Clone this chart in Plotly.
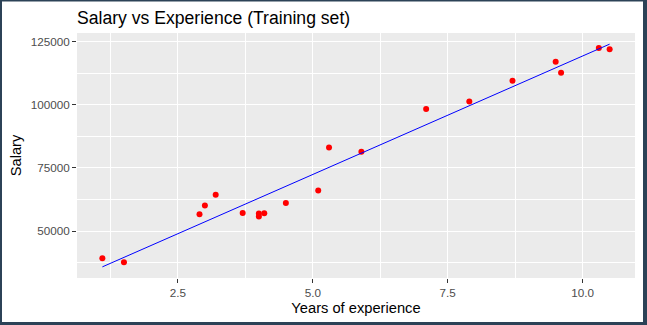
import numpy as np
import plotly.graph_objects as go

# Training set data (Years of experience, Salary)
years = [1.1, 1.5, 2.9, 3.0, 3.2, 3.7, 4.0, 4.0, 4.1, 4.5,
         5.1, 5.3, 5.9, 7.1, 7.9, 8.7, 9.5, 9.6, 10.3, 10.5]
salary = [39343, 37731, 56642, 60150, 64445, 57189, 55794, 56957, 57081, 61111,
          66029, 83088, 81363, 98273, 101302, 109431, 116969, 112635, 122391, 121872]

x_ticks = [2.5, 5.0, 7.5, 10.0]
x_ticklabels = ["2.5", "5.0", "7.5", "10.0"]
y_ticks = [50000, 75000, 100000, 125000]
y_ticklabels = ["50000", "75000", "100000", "125000"]

# Linear regression fit (as in the original lm model)
slope, intercept = np.polyfit(years, salary, 1)
pred = [slope * x + intercept for x in years]

W, H = 647, 325
ML, MR, MT, MB = 77, 12, 33, 47

xmin, xmax = min(years), max(years)
xpad = (xmax - xmin) * 0.05
ally = salary + pred
ymin, ymax = min(ally), max(ally)
ypad = (ymax - ymin) * 0.05

font_family = "Arial, Liberation Sans, sans-serif"

fig = go.Figure()
fig.add_trace(go.Scatter(x=years, y=salary, mode="markers",
                         marker=dict(color="#FF0000", size=6, line=dict(width=0)),
                         showlegend=False, hoverinfo="skip"))
fig.add_trace(go.Scatter(x=years, y=pred, mode="lines",
                         line=dict(color="#0000FF", width=1),
                         showlegend=False, hoverinfo="skip"))

axis_common = dict(
    showgrid=True, gridcolor="white", gridwidth=1.1,
    zeroline=False, showline=False,
    ticks="outside", ticklen=4, tickwidth=1, tickcolor="#333333",
    tickfont=dict(family=font_family, size=11.7, color="#4D4D4D"),
    tickmode="array",
)

fig.update_layout(
    width=W, height=H,
    margin=dict(l=ML, r=MR, t=MT, b=MB, pad=0),
    paper_bgcolor="white",
    plot_bgcolor="#EBEBEB",
    font=dict(family=font_family),
    title=dict(text="Salary vs Experience (Training set)",
               font=dict(family=font_family, size=17.6, color="black"),
               x=0, xref="paper", xanchor="left",
               y=1 - 18 / H, yref="container", yanchor="middle"),
    xaxis=dict(**axis_common, range=[xmin - xpad, xmax + xpad],
               tickvals=x_ticks, ticktext=x_ticklabels,
               minor=dict(tick0=1.25, dtick=2.5, showgrid=True,
                          gridcolor="white", gridwidth=0.55, ticklen=0),
               title=dict(text="Years of experience", standoff=4,
                          font=dict(family=font_family, size=14.7, color="black"))),
    yaxis=dict(**axis_common, range=[ymin - ypad, ymax + ypad],
               tickvals=y_ticks, ticktext=y_ticklabels,
               minor=dict(tick0=37500, dtick=25000, showgrid=True,
                          gridcolor="white", gridwidth=0.55, ticklen=0),
               title=dict(text="Salary", standoff=5,
                          font=dict(family=font_family, size=14.7, color="black"))),
)

# Dark frame around the whole image
pw = W - ML - MR
ph = H - MT - MB
def px_x(p):
    return (p - ML) / pw
def px_y(p):
    return 1 - (p - MT) / ph
frame_color = "#2C4257"
for (x0, y0, x1, y1) in [(0, 0, W, 1.5), (0, 0, 2, H), (W - 4, 0, W, H), (0, H - 3, W, H)]:
    fig.add_shape(type="rect", xref="paper", yref="paper",
                  x0=px_x(x0), x1=px_x(x1), y0=px_y(y1), y1=px_y(y0),
                  fillcolor=frame_color, line=dict(width=0), layer="above")

fig.write_html("out.html")
